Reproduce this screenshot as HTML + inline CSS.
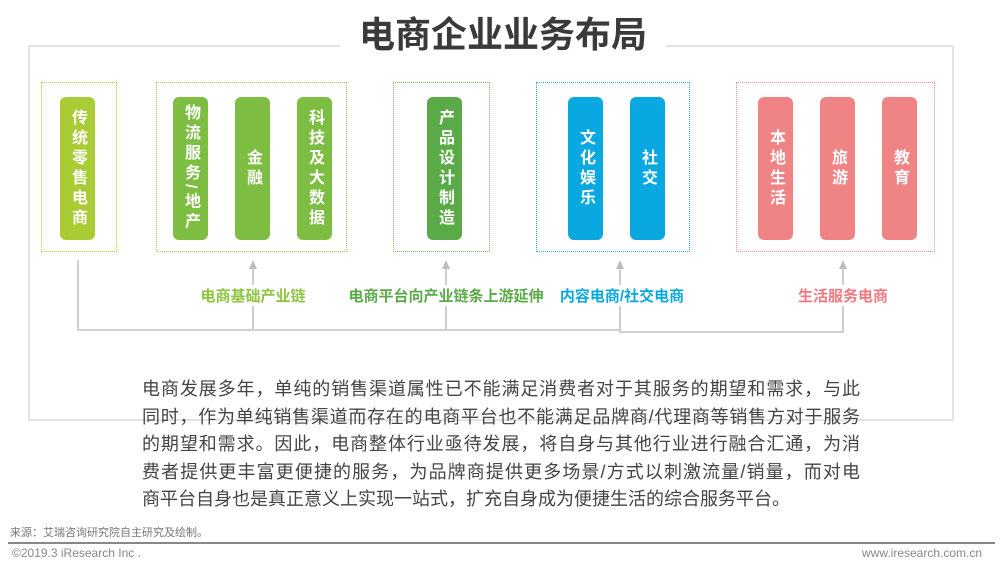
<!DOCTYPE html>
<html><head><meta charset="utf-8"><style>
body{margin:0;width:1000px;height:568px;background:#fff;position:relative;overflow:hidden;font-family:"Liberation Sans","Noto Sans CJK SC",sans-serif}
.a{position:absolute}
.frame{left:28px;top:45px;width:926px;height:376px;border:2px solid #e2e2e2;box-sizing:border-box}
.title{left:340px;top:10px;width:326px;text-align:center;font-size:36px;font-weight:bold;color:#3a3a3a;background:#fff;line-height:50px}
.box{top:82px;height:170px;border:1.5px dotted;box-sizing:border-box}
.pill{top:97px;width:35px;height:143px;border-radius:6px;color:#fff;font-weight:bold;font-size:16px;line-height:21px;display:flex;align-items:center;justify-content:center;text-align:center;writing-mode:vertical-rl;letter-spacing:4px}
.v{width:2px;background:#cfcfcf}
.h{height:2px;background:#cfcfcf}
.arr{width:0;height:0;border-left:4px solid transparent;border-right:4px solid transparent;border-bottom:9px solid #bdbdbd}
.lab{top:285px;font-size:15px;font-weight:bold;white-space:nowrap;transform:translateX(-50%);background:#fff;padding:0 2px}
.p{left:142px;top:376px;width:718px;font-size:18px;line-height:27.5px;color:#444}
.p div{text-align:justify;text-align-last:justify;white-space:nowrap}
.p div.l{text-align-last:left}
</style></head><body>
<div class="a frame"></div>
<div class="a title">电商企业业务布局</div>

<div class="a box" style="left:41px;width:76px;border-color:#b8d433"></div>
<div class="a box" style="left:156px;width:191px;border-color:#9ccc55"></div>
<div class="a box" style="left:393px;width:97px;border-color:#7dbf55"></div>
<div class="a box" style="left:536px;width:154px;border-color:#2aaede"></div>
<div class="a box" style="left:736px;width:199px;border-color:#f08c9a"></div>

<div class="a pill" style="left:60px;background:#a9cc35">传统零售电商</div>
<div class="a pill" style="left:173px;background:#7dbe42">物流服务/地产</div>
<div class="a pill" style="left:235px;background:#7dbe42">金融</div>
<div class="a pill" style="left:297px;background:#7dbe42">科技及大数据</div>
<div class="a pill" style="left:427px;background:#5aab47">产品设计制造</div>
<div class="a pill" style="left:568px;background:#0aa8e0">文化娱乐</div>
<div class="a pill" style="left:630px;background:#0aa8e0">社交</div>
<div class="a pill" style="left:758px;background:#f08384">本地生活</div>
<div class="a pill" style="left:820px;background:#f08384">旅游</div>
<div class="a pill" style="left:882px;background:#f08384">教育</div>

<div class="a v" style="left:77px;top:260px;height:71px"></div>
<div class="a v" style="left:252px;top:266px;height:65px"></div>
<div class="a v" style="left:445px;top:266px;height:65px"></div>
<div class="a v" style="left:619px;top:266px;height:67px"></div>
<div class="a v" style="left:842px;top:266px;height:67px"></div>
<div class="a h" style="left:77px;top:329px;width:544px"></div>
<div class="a h" style="left:619px;top:331px;width:225px"></div>
<div class="a arr" style="left:249px;top:260px"></div>
<div class="a arr" style="left:442px;top:260px"></div>
<div class="a arr" style="left:616px;top:260px"></div>
<div class="a arr" style="left:839px;top:260px"></div>

<div class="a lab" style="left:253px;color:#8cc63f">电商基础产业链</div>
<div class="a lab" style="left:446px;color:#5aab47">电商平台向产业链条上游延伸</div>
<div class="a lab" style="left:622px;color:#0aa8e0">内容电商/社交电商</div>
<div class="a lab" style="left:843px;color:#f07a80">生活服务电商</div>

<div class="a p">
<div>电商发展多年，单纯的销售渠道属性已不能满足消费者对于其服务的期望和需求，与此</div>
<div>同时，作为单纯销售渠道而存在的电商平台也不能满足品牌商/代理商等销售方对于服务</div>
<div>的期望和需求。因此，电商整体行业亟待发展，将自身与其他行业进行融合汇通，为消</div>
<div>费者提供更丰富更便捷的服务，为品牌商提供更多场景/方式以刺激流量/销量，而对电</div>
<div class="l">商平台自身也是真正意义上实现一站式，扩充自身成为便捷生活的综合服务平台。</div>
</div>

<div class="a" style="left:10px;top:524px;font-size:11px;color:#777">来源：艾瑞咨询研究院自主研究及绘制。</div>
<div class="a" style="left:8px;top:542px;width:987px;height:2px;background:#888"></div>
<div class="a" style="left:12px;top:546px;font-size:12px;color:#888">©2019.3 iResearch Inc .</div>
<div class="a" style="left:862px;top:546px;font-size:12px;color:#888">www.iresearch.com.cn</div>
</body></html>
